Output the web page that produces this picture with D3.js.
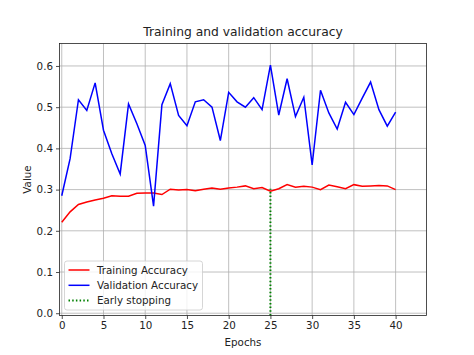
<!DOCTYPE html>
<html><head><meta charset="utf-8">
<script src="https://cdn.jsdelivr.net/npm/d3@7"></script>
<style>body{margin:0;background:#fff}svg{display:block}text{font-family:"DejaVu Sans",sans-serif;fill:#222}</style>
</head><body><svg id="c" width="474" height="355"></svg>
<script>
const epochs = d3.range(0, 41);
const trainAcc = [0.221,0.246,0.264,0.270,0.275,0.279,0.285,0.284,0.284,0.291,0.292,0.292,0.288,0.301,0.299,0.300,0.297,0.301,0.304,0.301,0.304,0.306,0.309,0.302,0.305,0.296,0.302,0.312,0.306,0.308,0.306,0.300,0.311,0.307,0.302,0.312,0.308,0.309,0.310,0.309,0.300];
const valAcc = [0.285,0.375,0.518,0.492,0.559,0.444,0.387,0.338,0.508,0.460,0.407,0.260,0.506,0.557,0.480,0.455,0.513,0.518,0.500,0.419,0.536,0.513,0.500,0.523,0.494,0.602,0.481,0.569,0.477,0.524,0.360,0.541,0.486,0.447,0.512,0.482,0.522,0.561,0.494,0.454,0.488];
const earlyStop = {epoch: 25, top: 0.302};
const xTicks = [0,5,10,15,20,25,30,35,40];
const yTicks = [0.0,0.1,0.2,0.3,0.4,0.5,0.6];
const seriesNames = ["Training Accuracy","Validation Accuracy","Early stopping"];

const svg = d3.select("#c");
const L = 59.5, R = 426.5, T = 43.5, B = 315.5;
const x = d3.scaleLinear().domain([-0.27, 43.7]).range([L, R]);
const y = d3.scaleLinear().domain([-0.0055, 0.6545]).range([B, T]);

// grid
const g = svg.append("g");
g.selectAll(".gx").data(xTicks).join("line")
  .attr("x1", d => x(d)).attr("x2", d => x(d)).attr("y1", T).attr("y2", B)
  .attr("stroke", "#b0b0b0").attr("stroke-width", 0.8);
g.selectAll(".gy").data(yTicks).join("line")
  .attr("y1", d => y(d)).attr("y2", d => y(d)).attr("x1", L).attr("x2", R)
  .attr("stroke", "#b0b0b0").attr("stroke-width", 0.8);

const line = d3.line().x((d, i) => x(epochs[i])).y(d => y(d));
svg.append("path").datum(trainAcc).attr("d", line).attr("fill", "none")
  .attr("stroke", "red").attr("stroke-width", 1.5);
svg.append("path").datum(valAcc).attr("d", line).attr("fill", "none")
  .attr("stroke", "blue").attr("stroke-width", 1.5);
svg.append("line").attr("x1", x(earlyStop.epoch)).attr("x2", x(earlyStop.epoch))
  .attr("y1", B).attr("y2", y(earlyStop.top))
  .attr("stroke", "green").attr("stroke-width", 2).attr("stroke-dasharray", "1.5,2.2");

// axes
const xa = svg.append("g").attr("transform", `translate(0,${B})`)
  .call(d3.axisBottom(x).tickValues(xTicks).tickSize(3.5).tickPadding(3).tickFormat(d3.format("d")));
const ya = svg.append("g").attr("transform", `translate(${L},0)`)
  .call(d3.axisLeft(y).tickValues(yTicks).tickSize(3.5).tickPadding(3).tickFormat(d3.format(".1f")));
[xa, ya].forEach(a => {
  a.select(".domain").remove();
  a.selectAll("line").attr("stroke", "#222").attr("stroke-width", 0.8);
  a.selectAll("text").attr("font-size", 10.3).attr("fill", "#222").style("font-family", "DejaVu Sans");
});
svg.append("rect").attr("x", L).attr("y", T).attr("width", R - L).attr("height", B - T)
  .attr("fill", "none").attr("stroke", "#222").attr("stroke-width", 0.8);

svg.append("text").attr("x", (L + R) / 2).attr("y", 36).attr("text-anchor", "middle")
  .attr("font-size", 12.3).text("Training and validation accuracy");
svg.append("text").attr("x", (L + R) / 2).attr("y", 346).attr("text-anchor", "middle")
  .attr("font-size", 10.3).text("Epochs");
svg.append("text").attr("transform", `translate(31,${(T + B) / 2}) rotate(-90)`).attr("text-anchor", "middle")
  .attr("font-size", 10.3).text("Value");

// legend
const lg = svg.append("g");
lg.append("rect").attr("x", 64.5).attr("y", 261).attr("width", 138).attr("height", 49).attr("rx", 2.5)
  .attr("fill", "#fff").attr("fill-opacity", 0.8).attr("stroke", "#ccc").attr("stroke-width", 0.8);
const styles = [
  {c: "red", dash: null, w: 1.5},
  {c: "blue", dash: null, w: 1.5},
  {c: "green", dash: "1.5,2.2", w: 2}
];
seriesNames.forEach((n, i) => {
  const yy = 270 + i * 15.3;
  lg.append("line").attr("x1", 68.5).attr("x2", 89.5).attr("y1", yy).attr("y2", yy)
    .attr("stroke", styles[i].c).attr("stroke-width", styles[i].w).attr("stroke-dasharray", styles[i].dash);
  lg.append("text").attr("x", 97).attr("y", yy + 3.7).attr("font-size", 10.3).text(n);
});
</script></body></html>
